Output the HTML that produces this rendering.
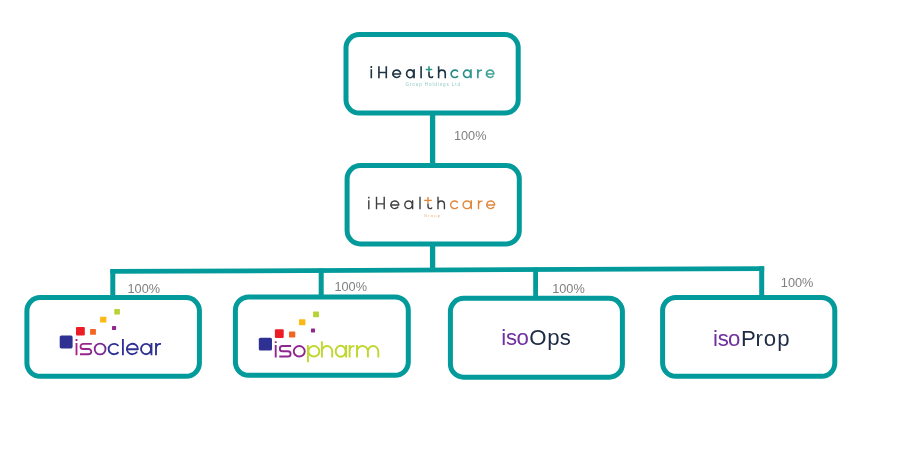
<!DOCTYPE html>
<html>
<head>
<meta charset="utf-8">
<title>Group structure</title>
<style>
  html, body { margin: 0; padding: 0; background: #ffffff; }
  body { width: 907px; height: 467px; overflow: hidden; font-family: "Liberation Sans", sans-serif; }
  svg { display: block; }
  .lbl { font-family: "Liberation Sans", sans-serif; font-size: 13px; fill: #7f7f7f; }
  .big { font-family: "Liberation Sans", sans-serif; font-size: 22.2px; }
  .tiny { font-family: "Liberation Sans", sans-serif; }
</style>
</head>
<body>
<svg width="907" height="467" viewBox="0 0 907 467">
  <defs>
    <filter id="noLcd" x="-5%" y="-5%" width="110%" height="110%" color-interpolation-filters="sRGB"><feColorMatrix type="identity"/></filter>
    <linearGradient id="gIso1" gradientUnits="userSpaceOnUse" x1="75" y1="0" x2="107" y2="0">
      <stop offset="0" stop-color="#ab218b"/>
      <stop offset="1" stop-color="#6f2c91"/>
    </linearGradient>
    <linearGradient id="gCare1" gradientUnits="userSpaceOnUse" x1="450" y1="0" x2="496" y2="0">
      <stop offset="0" stop-color="#1f857f"/>
      <stop offset="1" stop-color="#43a79a"/>
    </linearGradient>
  </defs>
  <rect x="0" y="0" width="907" height="467" fill="#ffffff"/>

  <!-- connectors -->
  <g stroke="#029a9a" fill="none" stroke-linecap="butt">
    <line x1="432.6" y1="113" x2="432.6" y2="166" stroke-width="5.3"/>
    <line x1="432.6" y1="244" x2="432.6" y2="270" stroke-width="5.3"/>
    <line x1="110.3" y1="271.4" x2="764.2" y2="268.6" stroke-width="4.8"/>
    <line x1="112.8" y1="269.2" x2="112.8" y2="298" stroke-width="5"/>
    <line x1="321.2" y1="268.5" x2="321.2" y2="297" stroke-width="5"/>
    <line x1="535.6" y1="267.6" x2="535.6" y2="298" stroke-width="4.8"/>
    <line x1="761.7" y1="266.3" x2="761.7" y2="297" stroke-width="5"/>
  </g>

  <!-- boxes -->
  <g stroke="#029a9a" stroke-width="5" fill="#ffffff">
    <rect x="346.0" y="34.5" width="172.2" height="78.6" rx="13.3" ry="13.3"/>
    <rect x="347.1" y="165.5" width="172.2" height="78.4" rx="13.3" ry="13.3"/>
    <rect x="26.9" y="297.6" width="172.5" height="78.7" rx="13.3" ry="13.3"/>
    <rect x="235.4" y="296.9" width="172.9" height="78.4" rx="13.3" ry="13.3"/>
    <rect x="450.4" y="298.3" width="172.0" height="78.9" rx="13.3" ry="13.3"/>
    <rect x="662.6" y="297.4" width="172.2" height="78.9" rx="13.3" ry="13.3"/>
  </g>

  <!-- percentage labels -->
  <g class="lbl" filter="url(#noLcd)">
    <text x="453.9" y="140.3" textLength="32.6" lengthAdjust="spacingAndGlyphs">100%</text>
    <text x="127.5" y="293.2" textLength="32.6" lengthAdjust="spacingAndGlyphs">100%</text>
    <text x="334.4" y="291.3" textLength="32.6" lengthAdjust="spacingAndGlyphs">100%</text>
    <text x="552.2" y="293.0" textLength="32.6" lengthAdjust="spacingAndGlyphs">100%</text>
    <text x="780.8" y="287.3" textLength="32.6" lengthAdjust="spacingAndGlyphs">100%</text>
  </g>

  <!-- iHealthcare Group Holdings Ltd -->
  <path fill="none" stroke="#1d3446" stroke-width="1.62" stroke-linejoin="round"  d="M371.3,69.3 L371.3,78.3 M371.3,66.1 L371.3,67.9 M378.91,66.2 L378.91,78.3 M386.29,66.2 L386.29,78.3 M378.91,72.5 L386.29,72.5 M392.81,74 H400.59 A3.89,3.69 0 1 0 400.07,75.64 M406.61,73.8 a3.54,3.69 0 1 0 7.07,0 a3.54,3.69 0 1 0 -7.07,0 Z M414.09,69.3 L414.09,78.3 M421.1,66.2 L421.1,78.3 M429,71.5 V75.24 Q429,77.49 431.25,77.49 Q432.8,77.49 432.5,76.19 M438.65,66.2 L438.65,78.3 M438.65,73.91 V73.41 A3.3,3.3 0 0 1 445.25,73.41 V78.3"/>
<path fill="none" stroke="#2b978d" stroke-width="1.62" stroke-linejoin="round"  d="M429,66.3 L429,71.6 M425.7,69.45 L432.3,69.45"/>
<path fill="none" stroke="url(#gCare1)" stroke-width="1.62" stroke-linejoin="round"  d="M457.97,71.63 A3.79,3.69 0 1 0 457.97,75.97 M463.51,73.8 a3.54,3.69 0 1 0 7.08,0 a3.54,3.69 0 1 0 -7.08,0 Z M470.99,69.3 L470.99,78.3 M477.85,69.3 L477.85,78.3 M477.85,74.26 C477.85,71.15 479.72,70.01 482,70.26 M486.41,74 H493.89 A3.74,3.69 0 1 0 493.39,75.64"/>

  <text class="tiny" filter="url(#noLcd)" x="405.5" y="86.2" font-size="4.6" fill="#3aa39a" textLength="54.5" lengthAdjust="spacing" opacity="0.6">Group Holdings Ltd</text>

  <!-- iHealthcare Group -->
  <path fill="none" stroke="#3d3d3d" stroke-width="1.4" stroke-linejoin="round"  d="M368.8,200.3 L368.8,209.3 M368.8,196.8 L368.8,198.5 M376.5,196.8 L376.5,209.3 M384.2,196.8 L384.2,209.3 M376.5,203.85 L384.2,203.85 M390.8,205 H398.8 A4,3.8 0 1 0 398.26,206.7 M404.8,204.8 a3.72,3.8 0 1 0 7.45,0 a3.72,3.8 0 1 0 -7.45,0 Z M412.6,200.3 L412.6,209.3 M420,196.8 L420,209.3 M428,203.4 V206.35 Q428,208.6 430.25,208.6 Q431.9,208.6 431.6,207.3 M438,196.8 L438,209.3 M438,204.7 V204.2 A3.2,3.2 0 0 1 444.4,204.2 V209.3"/>
<path fill="none" stroke="#e0873a" stroke-width="1.4" stroke-linejoin="round"  d="M428,196.9 L428,203.5 M424.1,200.4 L431.8,200.4"/>
<path fill="none" stroke="#e0873a" stroke-width="1.4" stroke-linejoin="round"  d="M457.84,202.57 A4,3.8 0 1 0 457.84,207.03 M463.1,204.8 a3.92,3.8 0 1 0 7.85,0 a3.92,3.8 0 1 0 -7.85,0 Z M471.3,200.3 L471.3,209.3 M478.5,200.3 L478.5,209.3 M478.5,205.1 C478.5,202.03 480.35,200.9 482.6,201.15 M486.7,205 H494.7 A4,3.8 0 1 0 494.16,206.7"/>

  <text class="tiny" filter="url(#noLcd)" x="423.7" y="216.8" font-size="4.4" fill="#e38b3b" textLength="16.5" lengthAdjust="spacing" opacity="0.65">Group</text>

  <!-- isoclear logo -->
  <g>
    <rect x="59.7" y="335.5" width="12.9" height="12.9" rx="1.6" fill="#2e3192"/>
    <rect x="76" y="326.9" width="8.8" height="8.6" rx="1" fill="#ed1c24"/>
    <rect x="90.1" y="329" width="5.8" height="5.8" rx="0.6" fill="#f26522"/>
    <rect x="100.1" y="316.7" width="6.3" height="5.9" rx="0.6" fill="#fdb913"/>
    <rect x="112" y="326" width="4.1" height="4" rx="0.4" fill="#92278f"/>
    <rect x="114.3" y="309" width="5.6" height="5.6" rx="0.6" fill="#b5d334"/>
    <path fill="none" stroke="url(#gIso1)" stroke-width="1.85" stroke-linejoin="round"  d="M76.5,342.9 L76.5,355.15 M76.5,338.9 L76.5,340.9 M91.8,343.82 H83.12 a2.6,2.6 0 0 0 0,5.2 H88.68 a2.6,2.6 0 0 1 0,5.2 H80 M94.72,349.02 a5.38,5.2 0 1 0 10.75,0 a5.38,5.2 0 1 0 -10.75,0 Z"/>
<path fill="none" stroke="#2e3192" stroke-width="1.85" stroke-linejoin="round"  d="M118.44,345.97 A5.43,5.2 0 1 0 118.44,352.08 M122.9,338.9 L122.9,355.15 M126.83,349.22 H137.88 A5.53,5.2 0 1 0 137.13,351.62 M141.03,349.02 a4.99,5.2 0 1 0 9.99,0 a4.99,5.2 0 1 0 -9.99,0 Z M151.47,342.9 L151.47,355.15 M156,342.9 L156,355.15 M156,348.82 C156,345.07 158.25,343.72 161,343.97"/>

  </g>

  <!-- isopharm logo -->
  <g>
    <rect x="258.8" y="337.7" width="13.2" height="12.9" rx="1.6" fill="#2e3192"/>
    <rect x="274.9" y="329.2" width="8.8" height="8.8" rx="1" fill="#ed1c24"/>
    <rect x="289" y="331.6" width="6.3" height="5.8" rx="0.6" fill="#f26522"/>
    <rect x="299" y="319.3" width="6.4" height="5.9" rx="0.6" fill="#fdb913"/>
    <rect x="311" y="328.6" width="4" height="3.8" rx="0.4" fill="#92278f"/>
    <rect x="313.1" y="311.6" width="5.9" height="5.6" rx="0.6" fill="#b5d334"/>
    <path fill="none" stroke="#8f278f" stroke-width="1.9" stroke-linejoin="round"  d="M275.7,345.1 L275.7,357.5 M275.7,341.3 L275.7,343.1 M291.1,346.05 H282.47 a2.62,2.62 0 0 0 0,5.25 H287.93 a2.62,2.62 0 0 1 0,5.25 H279.3 M293.75,351.3 a5.5,5.25 0 1 0 11,0 a5.5,5.25 0 1 0 -11,0 Z"/>
<path fill="none" stroke="#bfd72e" stroke-width="1.9" stroke-linejoin="round"  d="M308.43,351.3 a5.46,5.25 0 1 0 10.92,0 a5.46,5.25 0 1 0 -10.92,0 Z M307.95,345.1 L307.95,362.2 M321.9,341.3 L321.9,357.5 M321.9,351.7 V351.2 A5.15,5.15 0 0 1 332.2,351.2 V357.5 M335.75,351.3 a4.94,5.25 0 1 0 9.87,0 a4.94,5.25 0 1 0 -9.87,0 Z M346.1,345.1 L346.1,357.5 M349.6,345.1 L349.6,357.5 M349.6,350.95 C349.6,347.27 351.81,345.95 354.5,346.2 M357,345.1 L357,357.5 M357,351.8 V351.3 A5.45,5.25 0 0 1 367.9,351.3 V357.5 M367.9,351.75 V351.25 A5.2,5.2 0 0 1 378.3,351.25 V357.5"/>

  </g>

  <!-- isoOps -->
  <g class="big" filter="url(#noLcd)">
    <text y="345" fill="#7030a0" x="501.3 506.1 516.6">iso</text>
    <text y="345" fill="#1e2b44" x="529.3 547.2 559.7">Ops</text>
  </g>

  <!-- isoProp -->
  <g class="big" filter="url(#noLcd)">
    <text y="345.6" fill="#7030a0" x="713.1 717.7 728">iso</text>
    <text y="345.6" fill="#1e2b44" x="741 755.6 763.8 777.3">Prop</text>
  </g>
</svg>
</body>
</html>
